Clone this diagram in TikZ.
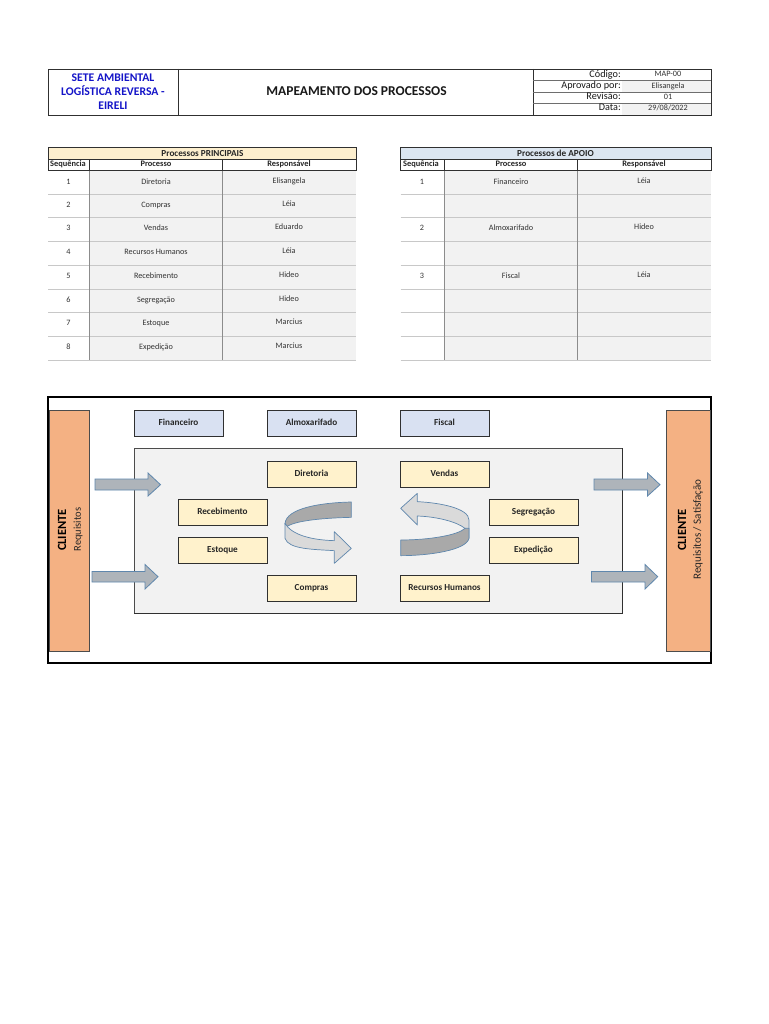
\documentclass[tikz,border=0pt]{standalone}
\usepackage{fontspec}
\setmainfont{Carlito}
\definecolor{hdrY}{HTML}{FDEFCE}
\definecolor{hdrB}{HTML}{DCE6F1}
\definecolor{rowG}{HTML}{F2F2F2}
\definecolor{lineG}{HTML}{C8C8C8}
\definecolor{edge}{HTML}{303030}
\definecolor{orangeC}{HTML}{F4B183}
\definecolor{supB}{HTML}{D9E1F2}
\definecolor{procY}{HTML}{FFF2CC}
\definecolor{arrF}{HTML}{AEB4BA}
\definecolor{arrD}{HTML}{5F87AD}
\definecolor{bandD}{HTML}{A9A9A9}
\definecolor{bandL}{HTML}{DADADA}
\definecolor{blueT}{HTML}{1414C8}
\tikzset{
  hd/.style={inner sep=0pt,anchor=base,font=\fontsize{8.4}{8}\selectfont\bfseries,text=black!85},
  hdt/.style={inner sep=0pt,anchor=base,font=\fontsize{9.2}{9}\selectfont\bfseries,text=black!85},
  cell/.style={inner sep=0pt,anchor=base,font=\fontsize{8.2}{8}\selectfont,text=black!80},
  lbl/.style={inner sep=0pt,font=\fontsize{10.2}{10}\selectfont,text=black!90,anchor=base east},
  val/.style={inner sep=0pt,anchor=base,font=\fontsize{8.2}{8}\selectfont,text=black!80},
  rowline/.style={draw=lineG,line width=.7pt},
  colline/.style={draw=black!45,line width=.6pt},
  supbox/.style={draw=edge,line width=.8pt,fill=supB,minimum width=89pt,minimum height=26pt,inner sep=0pt,text height=6.5pt,text depth=2pt,font=\fontsize{9.2}{9}\selectfont\bfseries,text=black!85},
  procbox/.style={draw=edge,line width=.8pt,fill=procY,minimum width=89pt,minimum height=26pt,inner sep=0pt,text height=6.5pt,text depth=2pt,font=\fontsize{9.2}{9}\selectfont\bfseries,text=black!85},
  clientbox/.style={draw=black!70,line width=.7pt,fill=orangeC},
  bigarrow/.style={draw=arrD,line width=.8pt,fill=arrF,line join=miter},
  band/.style={draw=arrD,line width=.7pt,line join=round},
}
\begin{document}
\begin{tikzpicture}[x=1pt,y=-1pt]
\useasboundingbox (0,0) rectangle (768,1024);
\fill[white] (0,0) rectangle (768,1024);

% Header
\fill[rowG] (622,80.5) rectangle (711,92);
\fill[rowG] (622,103.5) rectangle (711,115);
\draw[draw=edge,line width=.9pt] (48,69) rectangle (711,115);
\draw[draw=edge,line width=.9pt] (178,69) -- (178,115);
\draw[draw=edge,line width=.9pt] (533,69) -- (533,115);
\draw[draw=edge!70,line width=.9pt] (533,80.5) -- (711,80.5) (533,92) -- (711,92) (533,103.5) -- (711,103.5);
\node[align=center,inner sep=0pt,text=blueT,font=\fontsize{11.7}{14}\selectfont\bfseries] (empresa) at (113,92) {SETE AMBIENTAL\\LOGÍSTICA REVERSA -\\EIRELI};
\node[inner sep=0pt,font=\fontsize{13.5}{14}\selectfont\bfseries,text=black!90] (titulo) at (356.5,91.5) {MAPEAMENTO DOS PROCESSOS};
\node[lbl] (l1) at (621,77.3) {Código:};
\node[lbl] (l2) at (621,88.7) {Aprovado por:};
\node[lbl] (l3) at (621,99.6) {Revisão:};
\node[lbl] (l4) at (621,110.8) {Data:};
\node[val] (v1) at (668,77) {MAP-00};
\node[val] (v2) at (668,88.7) {Elisangela};
\node[val] (v3) at (668,99.6) {01};
\node[val] (v4) at (668,110.6) {29/08/2022};

% Table 1
\fill[rowG] (89,170) rectangle (356,360);
\foreach \y in {194,217.5,241.5,265,289,312.5,336.5,360}
  \draw[rowline] (48,\y) -- (356,\y);
\draw[colline] (89,170) -- (89,360);
\draw[colline] (222.5,170) -- (222.5,360);
\draw[draw=edge,line width=.9pt,fill=hdrY] (48,147) rectangle (356,159.5);
\draw[draw=edge,line width=.9pt,fill=white] (48,159.5) rectangle (356,170.5);
\draw[draw=edge,line width=.9pt] (89,159.5) -- (89,170.5) (222.5,159.5) -- (222.5,170.5);
\node[hdt] (pT) at (202.5,156.3) {Processos PRINCIPAIS};
\node[hd] (pS) at (68,167) {Sequência};
\node[hd] (pP) at (156,167) {Processo};
\node[hd] (pR) at (289,167) {Responsável};
\foreach \i/\y/\p/\r in {1/184.2/Diretoria/Elisangela,2/207.2/Compras/Léia,3/230.7/Vendas/Eduardo,4/254.2/Recursos Humanos/Léia,5/278.2/Recebimento/Hideo,6/302.2/Segregação/Hideo,7/325.7/Estoque/Marcius,8/349.2/Expedição/Marcius}{
  \node[cell] (as\i) at (68.5,\y) {\i};
  \node[cell] (ap\i) at (156,\y) {\p};
  \node[cell] (ar\i) at (289,\y-.8) {\r};
}

% Table 2
\fill[rowG] (444,170) rectangle (711,360);
\foreach \y in {194,217.5,241.5,265,289,312.5,336.5,360}
  \draw[rowline] (400.5,\y) -- (711,\y);
\draw[colline] (444,170) -- (444,360);
\draw[colline] (577.5,170) -- (577.5,360);
\draw[draw=edge,line width=.9pt,fill=hdrB] (400.5,147) rectangle (711,159.5);
\draw[draw=edge,line width=.9pt,fill=white] (400.5,159.5) rectangle (711,170.5);
\draw[draw=edge,line width=.9pt] (444,159.5) -- (444,170.5) (577.5,159.5) -- (577.5,170.5);
\node[hdt] (qT) at (555.5,156.3) {Processos de APOIO};
\node[hd] (qS) at (421,167) {Sequência};
\node[hd] (qP) at (511,167) {Processo};
\node[hd] (qR) at (644,167) {Responsável};
\foreach \i/\y/\p/\r in {1/184.2/Financeiro/Léia,2/230.7/Almoxarifado/Hideo,3/278.2/Fiscal/Léia}{
  \node[cell] (bs\i) at (422,\y) {\i};
  \node[cell] (bp\i) at (511,\y) {\p};
  \node[cell] (br\i) at (644,\y-.8) {\r};
}

% Diagram frame
\draw[black,line width=2.2pt] (48,397) rectangle (711,663);
\draw[clientbox] (49,410) rectangle (89,651);
\draw[clientbox] (666.5,410) rectangle (710,651);
\draw[draw=black!70,line width=.8pt,fill=rowG] (134,448) rectangle (622.5,613);
\draw[edge,line width=.8pt] (134,613) -- (622.5,613) -- (622.5,448);

\node[rotate=90,inner sep=0pt,font=\fontsize{12.5}{12}\selectfont\bfseries] (c1) at (62,530) {CLIENTE};
\node[rotate=90,inner sep=0pt,font=\fontsize{10.5}{11}\selectfont,text=black!85] (r1) at (78,529.5) {Requisitos};
\node[rotate=90,inner sep=0pt,font=\fontsize{12.5}{12}\selectfont\bfseries] (c2) at (682,530) {CLIENTE};
\node[rotate=90,inner sep=0pt,font=\fontsize{11.1}{11}\selectfont,text=black!85] (r2) at (698,529.5) {Requisitos / Satisfação};

% Support and process boxes
\node[supbox] (fin) at (178.5,423) {Financeiro};
\node[supbox] (alm) at (311.5,423) {Almoxarifado};
\node[supbox] (fis) at (444.5,423) {Fiscal};
\node[procbox] (dir) at (311.5,474) {Diretoria};
\node[procbox] (ven) at (444.5,474) {Vendas};
\node[procbox] (rec) at (222.5,512) {Recebimento};
\node[procbox] (est) at (222.5,550) {Estoque};
\node[procbox] (seg) at (533.5,512) {Segregação};
\node[procbox] (exp) at (533.5,550) {Expedição};
\node[procbox] (com) at (311.5,588) {Compras};
\node[procbox] (rh) at (444.5,588) {Recursos Humanos};

% Block arrows
\draw[bigarrow] (95,479) -- (148,479) -- (148,473) -- (160.5,484.7) -- (148,496) -- (148,490) -- (95,490) -- cycle;
\draw[bigarrow] (92,571.5) -- (145,571.5) -- (145,564.5) -- (158,576.7) -- (145,589) -- (145,582) -- (92,582) -- cycle;
\draw[bigarrow] (594,479) -- (647.5,479) -- (647.5,473) -- (660,484.7) -- (647.5,496) -- (647.5,490) -- (594,490) -- cycle;
\draw[bigarrow] (591.5,571.5) -- (645,571.5) -- (645,564.5) -- (657.7,576.7) -- (645,589) -- (645,582) -- (591.5,582) -- cycle;

% Curved arrows
\begin{scope}[shift={(270,490)},x=0.3333pt,y=-0.3333pt]
  \draw[band,fill=bandD] (244,36) .. controls (150,38) and (50,55) .. (45,100)
     -- (48,112) .. controls (70,92) and (160,84) .. (244,82) -- cycle;
  \draw[band,fill=bandL] (45,100) -- (45,145) .. controls (55,178) and (130,178) .. (193,182)
     -- (193,220) -- (244,175) -- (193,125) -- (193,152)
     .. controls (125,150) and (65,135) .. (45,100) -- cycle;
  \draw[band,fill=bandL] (392,55) -- (442,10) -- (442,35) .. controls (510,38) and (597,55) .. (597,90)
     -- (597,145) -- (585,115) .. controls (560,95) and (500,80) .. (442,78)
     -- (442,105) -- cycle;
  \draw[band,fill=bandD] (597,115) -- (597,145) .. controls (590,180) and (480,197) .. (392,197)
     -- (392,150) .. controls (480,150) and (565,135) .. (585,115) -- cycle;
\end{scope}
\end{tikzpicture}
\end{document}
